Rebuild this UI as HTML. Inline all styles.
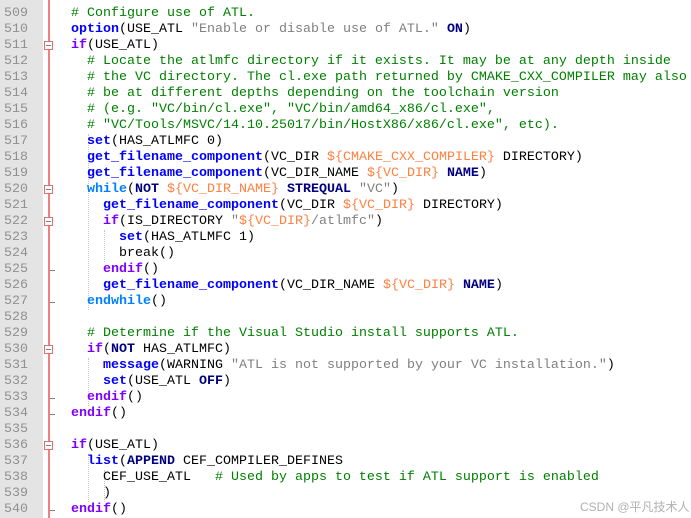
<!DOCTYPE html>
<html><head><meta charset="utf-8"><style>
body{margin:0;width:691px;height:518px;background:#fff;position:relative;overflow:hidden;font-family:"Liberation Mono",monospace;font-size:13.33px}
#g{position:absolute;left:0;top:0;width:43px;height:518px;background:#e4e4e4}
#r{position:absolute;left:48px;top:0;width:2px;height:518px;background:#f08080}
.n{position:absolute;left:0;width:28px;text-align:right;color:#909090;height:16px;line-height:16px;font-family:"Liberation Mono",monospace}
.l{position:absolute;left:71px;height:16px;line-height:16px;white-space:pre;color:#000}
.c{color:#008000}.k{color:#0000ff;font-weight:bold}.w{color:#0080ff;font-weight:bold}.p{color:#8000ff;font-weight:bold}.a{color:#000080;font-weight:bold}.v{color:#ff8040}.s{color:#808080}
.b{position:absolute;left:44px;width:9px;height:9px;border:1px solid #e07070;background:#fff;box-sizing:border-box}
.b:after{content:"";position:absolute;left:1px;top:3px;width:5px;height:1px;background:#808080}
.t{position:absolute;left:50px;width:5px;height:1px;background:#808080}
.gd{position:absolute;width:0;border-left:1px dotted #c8c8c8}
.wm{position:absolute;left:580px;top:498px;color:#b0b0b0;font-family:"Liberation Sans","Noto Sans CJK SC",sans-serif;font-size:12px}
</style></head><body>
<div id="g"></div><div id="r"></div>
<div class="gd" style="left:88px;top:134px;height:176px"></div>
<div class="gd" style="left:104px;top:230px;height:32px"></div>
<div class="gd" style="left:88px;top:358px;height:48px"></div>
<div class="gd" style="left:88px;top:454px;height:48px"></div>
<div class="gd" style="left:104px;top:470px;height:32px"></div>
<div class="n" style="top:6px">509</div><div class="l" style="top:6px"><span class="c"># Configure use of ATL.</span></div>
<div class="n" style="top:22px">510</div><div class="l" style="top:22px"><span class="k">option</span>(USE_ATL <span class="s">"Enable or disable use of ATL."</span> <span class="a">ON</span>)</div>
<div class="n" style="top:38px">511</div><div class="b" style="top:41px"></div><div class="l" style="top:38px"><span class="p">if</span>(USE_ATL)</div>
<div class="n" style="top:54px">512</div><div class="l" style="top:54px">  <span class="c"># Locate the atlmfc directory if it exists. It may be at any depth inside</span></div>
<div class="n" style="top:70px">513</div><div class="l" style="top:70px">  <span class="c"># the VC directory. The cl.exe path returned by CMAKE_CXX_COMPILER may also</span></div>
<div class="n" style="top:86px">514</div><div class="l" style="top:86px">  <span class="c"># be at different depths depending on the toolchain version</span></div>
<div class="n" style="top:102px">515</div><div class="l" style="top:102px">  <span class="c"># (e.g. "VC/bin/cl.exe", "VC/bin/amd64_x86/cl.exe",</span></div>
<div class="n" style="top:118px">516</div><div class="l" style="top:118px">  <span class="c"># "VC/Tools/MSVC/14.10.25017/bin/HostX86/x86/cl.exe", etc).</span></div>
<div class="n" style="top:134px">517</div><div class="l" style="top:134px">  <span class="k">set</span>(HAS_ATLMFC 0)</div>
<div class="n" style="top:150px">518</div><div class="l" style="top:150px">  <span class="k">get_filename_component</span>(VC_DIR <span class="v">${CMAKE_CXX_COMPILER}</span> DIRECTORY)</div>
<div class="n" style="top:166px">519</div><div class="l" style="top:166px">  <span class="k">get_filename_component</span>(VC_DIR_NAME <span class="v">${VC_DIR}</span> <span class="a">NAME</span>)</div>
<div class="n" style="top:182px">520</div><div class="b" style="top:185px"></div><div class="l" style="top:182px">  <span class="w">while</span>(<span class="a">NOT</span> <span class="v">${VC_DIR_NAME}</span> <span class="a">STREQUAL</span> <span class="s">"VC"</span>)</div>
<div class="n" style="top:198px">521</div><div class="l" style="top:198px">    <span class="k">get_filename_component</span>(VC_DIR <span class="v">${VC_DIR}</span> DIRECTORY)</div>
<div class="n" style="top:214px">522</div><div class="b" style="top:217px"></div><div class="l" style="top:214px">    <span class="p">if</span>(IS_DIRECTORY <span class="s">"</span><span class="v">${VC_DIR}</span><span class="s">/atlmfc"</span>)</div>
<div class="n" style="top:230px">523</div><div class="l" style="top:230px">      <span class="k">set</span>(HAS_ATLMFC 1)</div>
<div class="n" style="top:246px">524</div><div class="l" style="top:246px">      break()</div>
<div class="n" style="top:262px">525</div><div class="t" style="top:270px"></div><div class="l" style="top:262px">    <span class="p">endif</span>()</div>
<div class="n" style="top:278px">526</div><div class="l" style="top:278px">    <span class="k">get_filename_component</span>(VC_DIR_NAME <span class="v">${VC_DIR}</span> <span class="a">NAME</span>)</div>
<div class="n" style="top:294px">527</div><div class="t" style="top:302px"></div><div class="l" style="top:294px">  <span class="w">endwhile</span>()</div>
<div class="n" style="top:310px">528</div>
<div class="n" style="top:326px">529</div><div class="l" style="top:326px">  <span class="c"># Determine if the Visual Studio install supports ATL.</span></div>
<div class="n" style="top:342px">530</div><div class="b" style="top:345px"></div><div class="l" style="top:342px">  <span class="p">if</span>(<span class="a">NOT</span> HAS_ATLMFC)</div>
<div class="n" style="top:358px">531</div><div class="l" style="top:358px">    <span class="k">message</span>(WARNING <span class="s">"ATL is not supported by your VC installation."</span>)</div>
<div class="n" style="top:374px">532</div><div class="l" style="top:374px">    <span class="k">set</span>(USE_ATL <span class="a">OFF</span>)</div>
<div class="n" style="top:390px">533</div><div class="t" style="top:398px"></div><div class="l" style="top:390px">  <span class="p">endif</span>()</div>
<div class="n" style="top:406px">534</div><div class="t" style="top:414px"></div><div class="l" style="top:406px"><span class="p">endif</span>()</div>
<div class="n" style="top:422px">535</div>
<div class="n" style="top:438px">536</div><div class="b" style="top:441px"></div><div class="l" style="top:438px"><span class="p">if</span>(USE_ATL)</div>
<div class="n" style="top:454px">537</div><div class="l" style="top:454px">  <span class="k">list</span>(<span class="a">APPEND</span> CEF_COMPILER_DEFINES</div>
<div class="n" style="top:470px">538</div><div class="l" style="top:470px">    CEF_USE_ATL   <span class="c"># Used by apps to test if ATL support is enabled</span></div>
<div class="n" style="top:486px">539</div><div class="l" style="top:486px">    )</div>
<div class="n" style="top:502px">540</div><div class="t" style="top:510px"></div><div class="l" style="top:502px"><span class="p">endif</span>()</div>
<div class="wm">CSDN @平凡技术人</div>
</body></html>
